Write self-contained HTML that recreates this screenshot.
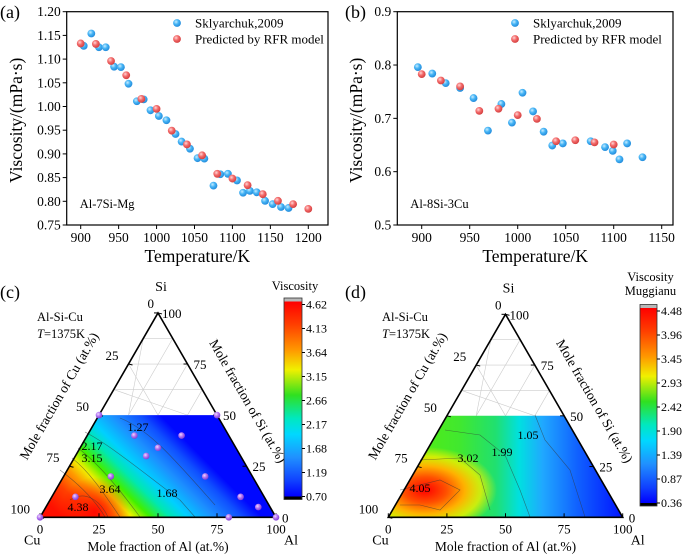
<!DOCTYPE html>
<html><head><meta charset="utf-8">
<style>
html,body{margin:0;padding:0;background:#fff;}
svg{display:block;font-family:"Liberation Serif",serif;}
</style></head>
<body>
<svg id="fig" width="685" height="557" viewBox="0 0 685 557" xmlns="http://www.w3.org/2000/svg">
<defs>
<radialGradient id="gBlue" cx="0.38" cy="0.35" r="0.7">
<stop offset="0" stop-color="#c8ecff"/><stop offset="0.45" stop-color="#45b4f5"/><stop offset="1" stop-color="#1f86d8"/></radialGradient>
<radialGradient id="gRed" cx="0.38" cy="0.35" r="0.7">
<stop offset="0" stop-color="#ffd6d6"/><stop offset="0.45" stop-color="#f36a6a"/><stop offset="1" stop-color="#d03a3a"/></radialGradient>
<radialGradient id="gPur" cx="0.38" cy="0.35" r="0.7">
<stop offset="0" stop-color="#efd8ff"/><stop offset="0.5" stop-color="#b070f0"/><stop offset="1" stop-color="#7a3ad0"/></radialGradient>
<linearGradient id="jetV" x1="0" y1="0" x2="0" y2="1">
<stop offset="0" stop-color="#ff0000"/><stop offset="0.12" stop-color="#ff4000"/><stop offset="0.25" stop-color="#ff9900"/><stop offset="0.35" stop-color="#f0f000"/><stop offset="0.48" stop-color="#30e020"/><stop offset="0.6" stop-color="#00e8c0"/><stop offset="0.68" stop-color="#00d8ff"/><stop offset="0.8" stop-color="#2090ff"/><stop offset="0.92" stop-color="#1040ff"/><stop offset="1" stop-color="#0000ff"/></linearGradient>
<linearGradient id="fieldC" gradientUnits="userSpaceOnUse" x1="70" y1="525" x2="170" y2="425">
<stop offset="0" stop-color="#ff1000"/><stop offset="0.15" stop-color="#ff4000"/><stop offset="0.27" stop-color="#ff9900"/><stop offset="0.35" stop-color="#f0f000"/><stop offset="0.44" stop-color="#40f000"/><stop offset="0.54" stop-color="#00e8b0"/><stop offset="0.63" stop-color="#00d0ff"/><stop offset="0.76" stop-color="#1c90ff"/><stop offset="0.9" stop-color="#1050ff"/><stop offset="1" stop-color="#0008ff"/></linearGradient>
<radialGradient id="hotC" gradientUnits="userSpaceOnUse" cx="95" cy="512" r="35">
<stop offset="0" stop-color="#ff0000" stop-opacity="0.9"/><stop offset="1" stop-color="#ff0000" stop-opacity="0"/></radialGradient>
<linearGradient id="fieldD" gradientUnits="userSpaceOnUse" x1="390" y1="0" x2="625" y2="0">
<stop offset="0" stop-color="#60f000"/><stop offset="0.3" stop-color="#40e830"/><stop offset="0.45" stop-color="#20e070"/><stop offset="0.55" stop-color="#00e0e0"/><stop offset="0.65" stop-color="#20a8ff"/><stop offset="0.8" stop-color="#1060ff"/><stop offset="1" stop-color="#0010ff"/></linearGradient>
<radialGradient id="hotD" gradientUnits="userSpaceOnUse" cx="425" cy="490" r="72" gradientTransform="translate(425 490) scale(1 0.6) translate(-425 -490)">
<stop offset="0" stop-color="#ff0000"/><stop offset="0.3" stop-color="#ff5000"/><stop offset="0.55" stop-color="#ffb000"/><stop offset="0.78" stop-color="#f0f000" stop-opacity="0.8"/><stop offset="1" stop-color="#f0f000" stop-opacity="0"/></radialGradient>
</defs>
</svg>
<script>
// ---------- data: panel (a) ----------
const aBlueT=[904,914,924,933,944,953,963,974,983,992,1003,1013,1025,1033,1044,1054,1063,1075,1084,1094,1106,1114,1123,1132,1143,1153,1164,1174];
const aBlueV=[1.128,1.154,1.125,1.125,1.084,1.083,1.048,1.011,1.015,0.992,0.980,0.971,0.942,0.926,0.911,0.891,0.890,0.833,0.857,0.858,0.844,0.818,0.822,0.819,0.801,0.794,0.788,0.786];
const aRedT=[900,920,940,960,980,1000,1020,1040,1060,1080,1100,1120,1140,1160,1180,1200];
const aRedV=[1.133,1.132,1.096,1.066,1.016,0.995,0.949,0.920,0.897,0.858,0.848,0.834,0.815,0.801,0.794,0.784];
const aXTicks=[900,950,1000,1050,1100,1150,1200];
const aYTicks=[0.75,0.80,0.85,0.90,0.95,1.00,1.05,1.10,1.15,1.20];
// ---------- data: panel (b) ----------
const bBlueT=[896,911,925,940,954,969,983,994,1005,1016,1027,1036,1047,1076,1091,1099,1106,1114,1130];
const bBlueV=[0.796,0.784,0.766,0.757,0.738,0.677,0.727,0.692,0.748,0.713,0.675,0.649,0.653,0.657,0.646,0.639,0.623,0.653,0.627];
const bRedT=[900,920,940,960,980,1000,1020,1040,1060,1080,1100];
const bRedV=[0.783,0.771,0.760,0.714,0.718,0.706,0.699,0.657,0.659,0.655,0.651];
const bXTicks=[900,950,1000,1050,1100,1150];
const bYTicks=[0.5,0.6,0.7,0.8,0.9];
// ---------- data: panel (c) ternary points (Al %, Si %) ----------
const cPtsAl=[0,50,20,40,33,30,20,60,10,80,90,80,100,0];
const cPtsSi=[50,50,40,40,34,30,20,20,10,10,5,0,0,0];
const cBarTicks=["4.62","4.13","3.64","3.15","2.66","2.17","1.68","1.19","0.70"];
const dBarTicks=["4.48","3.96","3.45","2.93","2.42","1.90","1.39","0.87","0.36"];
const ternTicks=[0,25,50,75,100];

const NS="http://www.w3.org/2000/svg";
const svg=document.getElementById('fig');
function el(tag,attrs,parent,text){const e=document.createElementNS(NS,tag);for(const k in attrs)e.setAttribute(k,attrs[k]);if(text!==undefined)e.textContent=text;(parent||svg).appendChild(e);return e;}

function scatterPanel(o){
  const g=el('g',{});
  
  
  const sx=v=>o.x0+(v-o.xmin)/(o.xmax-o.xmin)*(o.x1-o.x0);
  const sy=v=>o.y1-(v-o.ymin)/(o.ymax-o.ymin)*(o.y1-o.y0);
  const frame=el('rect',{x:o.px0,y:o.y0,width:o.px1-o.px0,height:o.y1-o.y0,fill:'none',stroke:'#000','stroke-width':1.2},g);
  
  
  o.xt.forEach(t=>{const x=sx(t);
    el('line',{x1:x,y1:o.y1,x2:x,y2:o.y1+4,stroke:'#000'},g);
    const lb=el('text',{x:x,y:o.y1+17,'font-size':13.5,'text-anchor':'middle'},g,String(t));
    
    });
  o.yt.forEach(t=>{const y=sy(t);
    el('line',{x1:o.px0,y1:y,x2:o.px0-4,y2:y,stroke:'#000'},g);
    const lb=el('text',{x:o.px0-6,y:y+4.5,'font-size':13.5,'text-anchor':'end'},g,t.toFixed(o.dec));
    
    });
  const yt=el('text',{x:0,y:0,'font-size':17.5,'text-anchor':'middle',transform:`translate(${o.ytx},${(o.y0+o.y1)/2+2}) rotate(-90)`},g,'Viscosity/(mPa·s)');
  
  
  const xt=el('text',{x:(o.px0+o.px1)/2,y:262,'font-size':17.5,'text-anchor':'middle'},g,'Temperature/K');
  
  
  const pl=el('text',{x:o.lx,y:18,'font-size':18},g,o.label);
  
  
  const al=el('text',{x:o.px0+13,y:208,'font-size':12.5},g,o.alloy);
  
  
  o.bt.forEach((t,i)=>{const c=el('circle',{cx:sx(t),cy:sy(o.bv[i]),r:3.9,fill:'url(#gBlue)'},g);
    
    });
  o.rt.forEach((t,i)=>{const c=el('circle',{cx:sx(t),cy:sy(o.rv[i]),r:3.9,fill:'url(#gRed)'},g);
    
    });
  const l1=el('circle',{cx:o.legx,cy:23,r:3.9,fill:'url(#gBlue)'},g);
  
  
  const t1=el('text',{x:o.legx+18,y:27.5,'font-size':13},g,'Sklyarchuk,2009');
  
  
  const l2=el('circle',{cx:o.legx,cy:39,r:3.9,fill:'url(#gRed)'},g);
  
  
  const t2=el('text',{x:o.legx+18,y:43.5,'font-size':13},g,'Predicted by RFR model');
  
  
}
scatterPanel({name:'panel-a-chart',label:'(a)',lx:0,alloy:'Al-7Si-Mg',px0:66.7,px1:328,x0:80.7,x1:308.3,xmin:900,xmax:1200,y0:11.7,y1:225,ymin:0.75,ymax:1.20,xt:aXTicks,yt:aYTicks,dec:2,ytx:22,bt:aBlueT,bv:aBlueV,rt:aRedT,rv:aRedV,legx:177});
scatterPanel({name:'panel-b-chart',label:'(b)',lx:345,alloy:'Al-8Si-3Cu',px0:397.3,px1:673,x0:421.7,x1:661.7,xmin:900,xmax:1150,y0:11.7,y1:225,ymin:0.5,ymax:0.9,xt:bXTicks,yt:bYTicks,dec:1,ytx:362,bt:bBlueT,bv:bBlueV,rt:bRedT,rv:bRedV,legx:515});

function ternPanel(o){
  const g=el('g',{});
  
  
  const W=o.ax-o.cx, H=W*0.866;
  const P=(al,si)=>[o.cx+(al/100)*W+(si/100)*W/2, o.by-(si/100)*H];
  const top=P(0,100),cu=P(0,0),alp=P(100,0),l50=P(0,50),r50=P(50,50);
  for(let s=62.5;s<100;s+=12.5){const a=P(0,s),b=P(100-s,s);el('line',{x1:a[0],y1:a[1],x2:b[0],y2:b[1],stroke:'#ccc','stroke-width':0.6},g);}
  for(let k=12.5;k<50;k+=12.5){
    let a=P(0,50+k),b=P(50-k,50); el('line',{x1:a[0],y1:a[1],x2:b[0],y2:b[1],stroke:'#ccc','stroke-width':0.6},g);
    a=P(k,100-k);b=P(k,50); el('line',{x1:a[0],y1:a[1],x2:b[0],y2:b[1],stroke:'#ccc','stroke-width':0.6},g);
  }
  const poly=[cu,alp,r50,l50].map(p=>p.join(',')).join(' ');
  const f=el('polygon',{points:poly,fill:o.field},g);
  
  
  el('polygon',{points:poly,fill:o.hot},g);
  o.contours.forEach(c=>{el('path',{d:c,fill:'none',stroke:'#333','stroke-width':0.6,'stroke-opacity':0.6},g);});
  o.clabels.forEach(c=>{const t=el('text',{x:c[0],y:c[1],'font-size':12,'text-anchor':'middle'},g,c[2]);
    
    });
  const tri=el('polygon',{points:[top,cu,alp].map(p=>p.join(',')).join(' '),fill:'none',stroke:'#000','stroke-width':1.6},g);
  
  
  ternTicks.forEach(t=>{
    let p=P(t,0); el('line',{x1:p[0],y1:p[1],x2:p[0],y2:p[1]-4,stroke:'#000'},g);
    let lb=el('text',{x:p[0],y:p[1]+16,'font-size':13,'text-anchor':'middle'},g,String(t));
    
    
    p=P(0,100-t); lb=el('text',{x:p[0]-(t==0?4:10),y:p[1]+(t==0?-5:-4),'font-size':13,'text-anchor':'end'},g,String(t));
    
    
    el('line',{x1:p[0],y1:p[1],x2:p[0]+4,y2:p[1]+1,stroke:'#000'},g);
    p=P(100-t,t); lb=el('text',{x:p[0]+(t==100?4:6),y:p[1]+5,'font-size':13},g,String(t));
    
    
    el('line',{x1:p[0],y1:p[1],x2:p[0]-4,y2:p[1],stroke:'#000'},g);
  });
  const si=el('text',{x:top[0]+3,y:top[1]-22,'font-size':14,'text-anchor':'middle'},g,'Si');
  
  
  const cuT=el('text',{x:cu[0]-16,y:cu[1]+27,'font-size':14},g,'Cu');
  
  
  const alT=el('text',{x:alp[0]+8,y:alp[1]+27,'font-size':14},g,'Al');
  
  
  const xa=el('text',{x:(cu[0]+alp[0])/2,y:551,'font-size':13.5,'text-anchor':'middle'},g,'Mole fraction of Al (at.%)');
  
  
  const la=el('text',{x:0,y:0,'font-size':13.5,'text-anchor':'middle',transform:`translate(${o.cx+23},${o.by-119}) rotate(-60)`},g,'Mole fraction of Cu (at.%)');
  
  
  const ra=el('text',{x:0,y:0,'font-size':13.5,'text-anchor':'middle',transform:`translate(${o.ax-32},${o.by-114}) rotate(60)`},g,'Mole fraction of Si (at.%)');
  
  
  const pl=el('text',{x:o.lx,y:298,'font-size':18},g,o.label);
  
  
  const s1=el('text',{x:o.lx+37,y:321,'font-size':12.5},g,'Al-Si-Cu');
  
  
  const s2=el('text',{x:o.lx+37,y:338,'font-size':12.5},g);
  s2.innerHTML='<tspan font-style="italic">T</tspan>=1375K';
  
  
  if(o.pts){o.pts[0].forEach((a,i)=>{const p=P(a,o.pts[1][i]);const c=el('circle',{cx:p[0],cy:p[1],r:3.3,fill:'url(#gPur)'},g);
    
    });}
  const cb=el('g',{},g);
  
  
  el('rect',{x:o.bx,y:o.bt-3.5,width:o.bw,height:3.5,fill:'#b8b8b8'},cb);
  el('rect',{x:o.bx,y:o.bt,width:o.bw,height:o.bb-o.bt,fill:'url(#jetV)'},cb);
  el('rect',{x:o.bx,y:o.bb,width:o.bw,height:3,fill:'#000'},cb);
  el('rect',{x:o.bx,y:o.bt-3.5,width:o.bw,height:o.bb-o.bt+6.5,fill:'none',stroke:'#333','stroke-width':0.8},cb);
  o.ticks.forEach((t,i)=>{const y=o.bt+3+i*(o.bb-o.bt-3)/(o.ticks.length-1);
    el('line',{x1:o.bx+o.bw,y1:y,x2:o.bx+o.bw+3,y2:y,stroke:'#000'},cb);
    const lb=el('text',{x:o.bx+o.bw+4,y:y+4,'font-size':12},cb,t);
    
    });
  o.btitle.forEach((t,i)=>{const lb=el('text',{x:o.bx+o.bw/2+2,y:o.bty+i*14,'font-size':12.5,'text-anchor':'middle'},cb,t);
    
    });
}
ternPanel({name:'panel-c-ternary',label:'(c)',lx:0,cx:40,ax:276,by:517.3,field:'url(#fieldC)',hot:'url(#hotC)',pts:[cPtsAl,cPtsSi],
  contours:['M85,432 C110,445 140,470 180,500 L195,517','M78,448 C100,465 120,490 140,517','M72,458 C90,472 105,495 120,517','M60,470 C80,485 95,500 105,517','M120,418 C150,430 175,460 215,505','M70,500 C85,490 100,500 108,517'],
  clabels:[[138,431,'1.27'],[92,450,'2.17'],[92,462,'3.15'],[110,493,'3.64'],[167,497,'1.68'],[78,511,'4.38']],
  bx:284,bw:18,bt:301.5,bb:496.5,ticks:cBarTicks,btitle:['Viscosity'],bty:290});
ternPanel({name:'panel-d-ternary',label:'(d)',lx:345,cx:388.3,ax:622.7,by:517.3,field:'url(#fieldD)',hot:'url(#hotD)',pts:null,
  contours:['M445,430 L480,435 L505,455 L520,490 L530,517','M420,460 L460,458 L480,475 L490,510','M400,490 L440,480 L460,490 L440,510 L420,505 L400,505','M535,415 L545,440 L570,470 L585,517'],
  clabels:[[528,439,'1.05'],[502,456,'1.99'],[468,462,'3.02'],[420,492,'4.05']],
  bx:640,bw:17,bt:308,bb:503,ticks:dBarTicks,btitle:['Viscosity','Muggianu'],bty:281});
</script>
</body></html>
